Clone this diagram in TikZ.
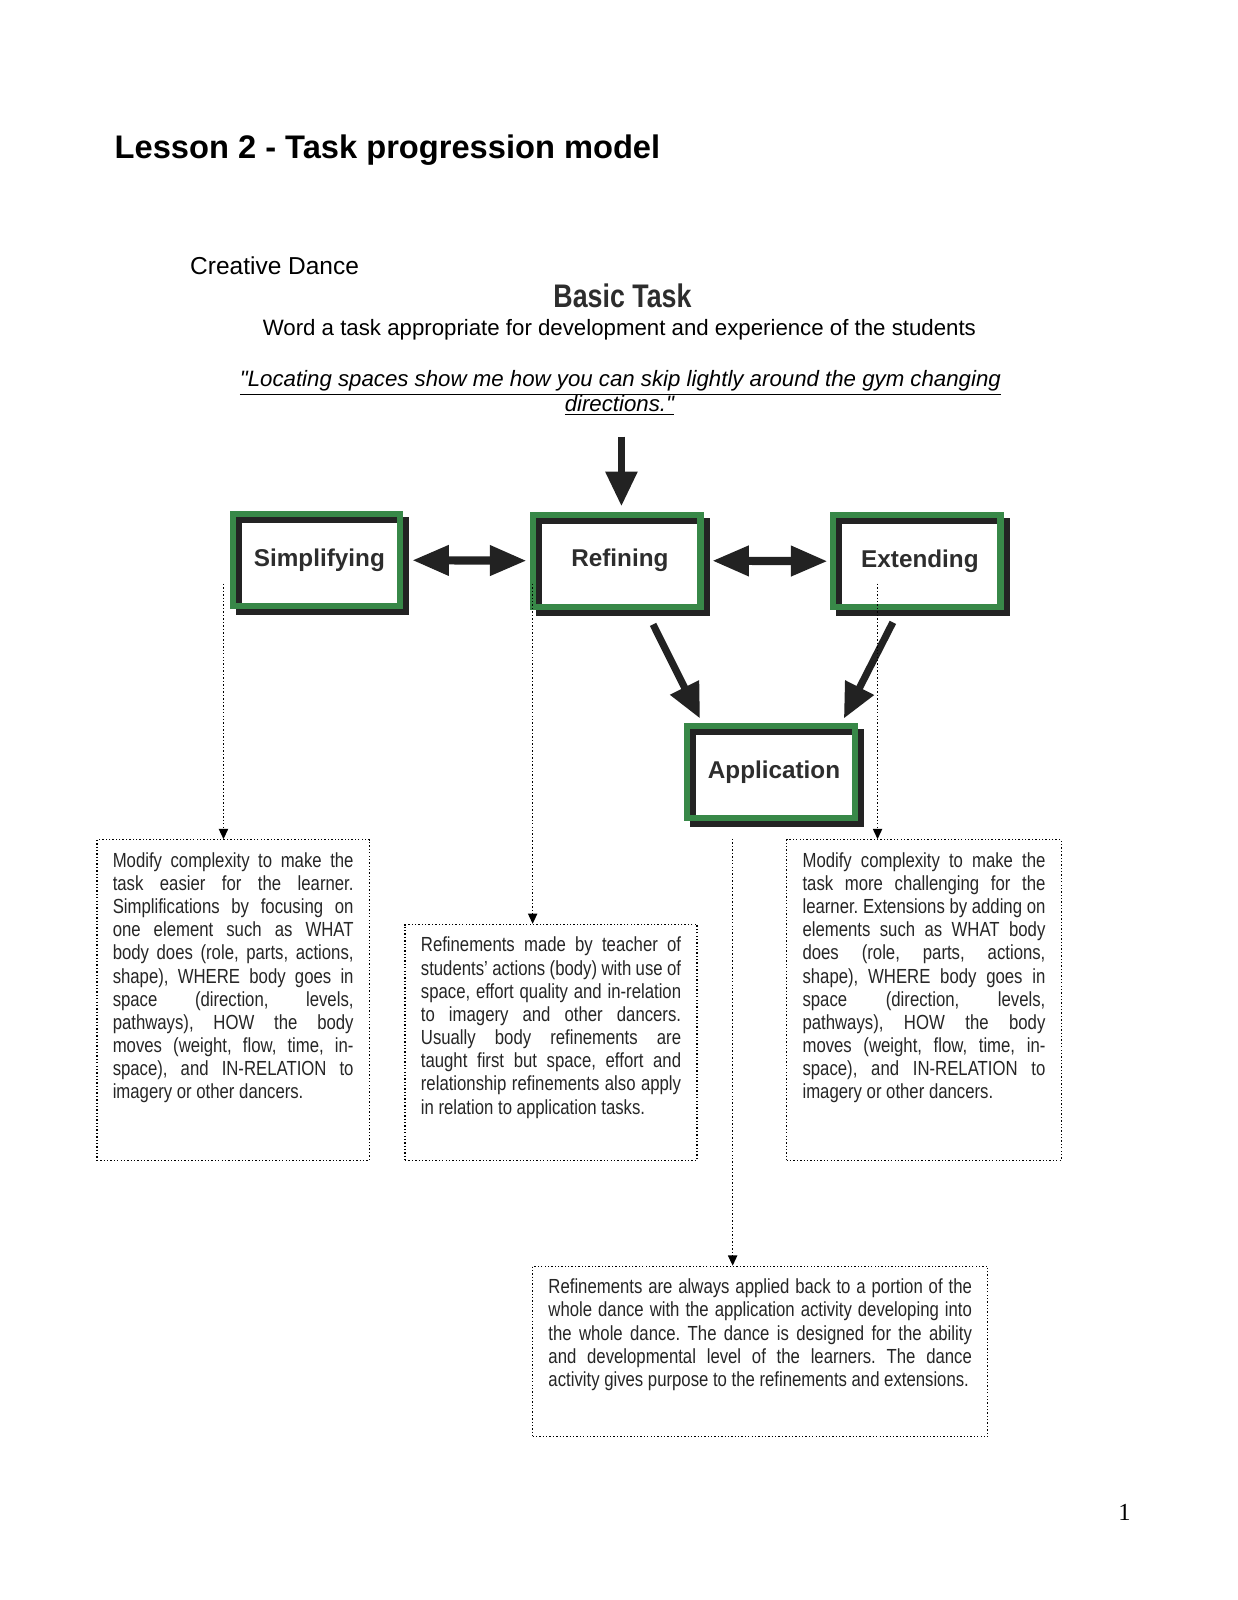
\documentclass[tikz,border=0pt]{standalone}
\usepackage{fontspec}
\setmainfont{Liberation Sans}
\newfontfamily\narrowfont[FakeStretch=0.82]{Liberation Sans}
\newfontfamily\pagefont{Liberation Serif}
\usetikzlibrary{arrows.meta,positioning,calc}

\definecolor{boxgreen}{RGB}{56,136,72}
\definecolor{shade}{RGB}{35,35,35}
\definecolor{arrowdark}{RGB}{34,34,34}
\definecolor{labelgrey}{RGB}{45,45,45}

\newcommand{\notetext}[3]{\parbox[c][#2][t]{#1}{\narrowfont\fontsize{10}{11.35}\selectfont\frenchspacing\color{black!85}#3}}

\tikzset{
  gbox/.style={rectangle,fill=white,minimum width=82pt,minimum height=45pt,inner sep=0pt,
    font=\fontsize{11.9}{13}\selectfont\bfseries,text=labelgrey,
    postaction={draw=shade,line width=3pt,transform canvas={shift={(3pt,-3pt)}}},
    postaction={draw=boxgreen,line width=3pt}},
  plain/.style={inner sep=0pt},
  notebox/.style={draw,densely dotted,line width=0.65pt,inner xsep=7.75pt,inner ysep=6.2pt},
  bigarrow/.style={draw=arrowdark,line width=3.5pt,-{Triangle[width=15pt,length=17pt]}},
  bothways/.style={draw=arrowdark,line width=4pt,{Triangle[width=14pt,length=18pt]}-{Triangle[width=14pt,length=18pt]}},
  dotline/.style={densely dotted,line width=0.7pt,-{Triangle[width=4.5pt,length=5pt]}}
}

\begin{document}
\begin{tikzpicture}[x=0.5pt,y=-0.5pt]
\useasboundingbox[fill=white] (0,0) rectangle (1212.3,1568);

\node[plain,anchor=base west,font=\fontsize{16}{19}\selectfont\bfseries] (title) at (112,155) {Lesson 2 - Task progression model};
\node[plain,anchor=base west,font=\fontsize{12}{14}\selectfont] (dance) at (186,269) {Creative Dance};
\node[plain,anchor=base,font=\fontsize{16}{18}\selectfont\bfseries\narrowfont,text=labelgrey] (basic) at (610,301) {Basic Task};
\node[plain,anchor=base,font=\fontsize{10.9}{13}\selectfont] (word) at (607,329) {Word a task appropriate for development and experience of the students};
\node[plain,anchor=base,font=\fontsize{10.9}{13}\selectfont\itshape] (quote1) at (608,379) {\underline{\textquotedbl Locating spaces show me how you can skip lightly around the gym changing}};
\node[plain,anchor=base,font=\fontsize{10.9}{13}\selectfont\itshape] (quote2) at (607,403) {\underline{directions.\textquotedbl}};

\node[gbox] (simp) at (310,549) {\hspace{3pt}Simplifying};
\node[gbox] (refi) at (604.5,549.5) {\hspace{3pt}Refining};
\node[gbox] (exte) at (898.5,550) {\hspace{3pt}Extending};
\node[gbox] (appl) at (755.5,756.5) {\hspace{3pt}Application};

\coordinate (task) at (609,428);
\draw[bigarrow,shorten >=4pt] (task) -- (task |- refi.north);
\draw[bothways,shorten <=5.75pt,shorten >=3pt] (simp.east) -- (refi.west);
\draw[bothways,shorten <=5.5pt,shorten >=2.5pt] (refi.east) -- (exte.west);
\draw[bigarrow] ([shift={(35.5,17)}]refi.south) -- ([shift={(-69.5,-7)}]appl.north);
\draw[bigarrow] ([shift={(-23.5,14.5)}]exte.south) -- ([shift={(71.5,-7)}]appl.north);

\node[notebox] (simpnote) at (228.5,980) {\notetext{118pt}{144.6pt}{Modify complexity to make the\linebreak
task easier for the learner.\linebreak
Simplifications by focusing on\linebreak
one element such as WHAT\linebreak
body does (role, parts, actions,\linebreak
shape), WHERE body goes in\linebreak
space (direction, levels,\linebreak
pathways), HOW the body\linebreak
moves (weight, flow, time, in-\linebreak{}space), and IN-RELATION to\linebreak
imagery or other dancers.}};
\node[notebox] (refinote) at (540,1021.5) {\notetext{127.5pt}{103.1pt}{Refinements made by teacher of\linebreak
students’ actions (body) with use of\linebreak
space, effort quality and in-relation\linebreak
to imagery and other dancers.\linebreak
Usually body refinements are\linebreak
taught first but space, effort and\linebreak
relationship refinements also apply\linebreak
in relation to application tasks.}};
\node[notebox] (extenote) at (905.5,980) {\notetext{119pt}{144.6pt}{Modify complexity to make the\linebreak
task more challenging for the\linebreak
learner. Extensions by adding on\linebreak
elements such as WHAT body\linebreak
does (role, parts, actions,\linebreak
shape), WHERE body goes in\linebreak
space (direction, levels,\linebreak
pathways), HOW the body\linebreak
moves (weight, flow, time, in-\linebreak{}space), and IN-RELATION to\linebreak
imagery or other dancers.}};
\node[notebox] (applnote) at (745,1324.5) {\notetext{207.5pt}{71.1pt}{Refinements are always applied back to a portion of the\linebreak
whole dance with the application activity developing into\linebreak
the whole dance. The dance is designed for the ability\linebreak
and developmental level of the learners. The dance\linebreak
activity gives purpose to the refinements and extensions.}};

\coordinate (s0) at (219,572);
\coordinate (r0) at (522,572);
\coordinate (e0) at (860,572);
\coordinate (a0) at (718,822);
\draw[dotline] (s0) -- (s0 |- simpnote.north);
\draw[dotline] (r0) -- (r0 |- refinote.north);
\draw[dotline] (e0) -- (e0 |- extenote.north);
\draw[dotline] (a0) -- (a0 |- applnote.north);

\node[plain,anchor=base,font=\pagefont\fontsize{12}{14}\selectfont] (pagenum) at (1102,1490) {1};
\end{tikzpicture}
\end{document}
